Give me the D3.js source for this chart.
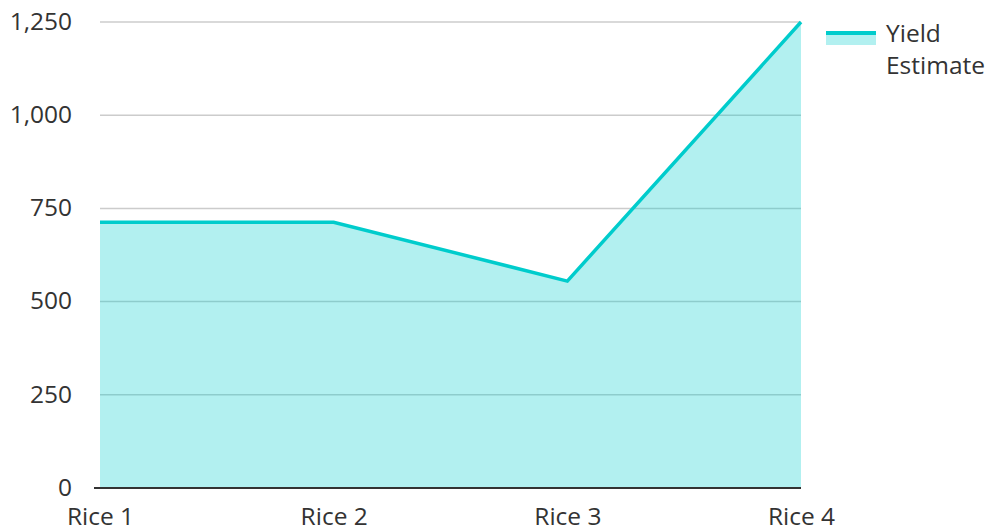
<!DOCTYPE html>
<html>
<head>
<meta charset="utf-8">
<script src="https://cdn.jsdelivr.net/npm/d3@7"></script>
<style>
  body { margin: 0; background: #fff; }
  text { font-family: "Open Sans", sans-serif; fill: #333; }
</style>
</head>
<body>
<div id="chart"></div>
<script>
// data
var categories = ["Rice 1", "Rice 2", "Rice 3", "Rice 4"];
var yieldValues = [713, 713, 555, 1250];
var yTicks = [0, 250, 500, 750, 1000, 1250];
var seriesName = ["Yield", "Estimate"];

var width = 990, height = 529;
var margin = { top: 22, right: 189, bottom: 41, left: 100 };
var fontSize = "24.5px";

var svg = d3.select("#chart").append("svg")
    .attr("width", width)
    .attr("height", height);

var x = d3.scalePoint()
    .domain(categories)
    .range([margin.left, width - margin.right]);

var y = d3.scaleLinear()
    .domain([0, 1250])
    .range([height - margin.bottom, margin.top]);

// gridlines
svg.append("g")
    .selectAll("line")
    .data(yTicks.filter(function(d) { return d > 0; }))
    .enter().append("line")
    .attr("x1", margin.left)
    .attr("x2", width - margin.right)
    .attr("y1", function(d) { return y(d); })
    .attr("y2", function(d) { return y(d); })
    .attr("stroke", "#ccc")
    .attr("stroke-width", 1.5);

var data = categories.map(function(c, i) { return { cat: c, v: yieldValues[i] }; });

var area = d3.area()
    .x(function(d) { return x(d.cat); })
    .y0(y(0))
    .y1(function(d) { return y(d.v); });

var line = d3.line()
    .x(function(d) { return x(d.cat); })
    .y(function(d) { return y(d.v); });

svg.append("path")
    .datum(data)
    .attr("d", area)
    .attr("fill", "#00cccc")
    .attr("fill-opacity", 0.3);

svg.append("path")
    .datum(data)
    .attr("d", line)
    .attr("fill", "none")
    .attr("stroke", "#00cccc")
    .attr("stroke-width", 3.5);

// baseline
svg.append("line")
    .attr("x1", margin.left - 6)
    .attr("x2", width - margin.right)
    .attr("y1", y(0))
    .attr("y2", y(0))
    .attr("stroke", "#333")
    .attr("stroke-width", 2);

// y axis labels
var yAxis = d3.axisLeft(y)
    .tickValues(yTicks)
    .tickFormat(d3.format(","))
    .tickSize(0)
    .tickPadding(28);

var gy = svg.append("g")
    .attr("transform", "translate(" + margin.left + ",0)")
    .call(yAxis);
gy.select(".domain").remove();
gy.selectAll("text")
    .style("font-size", fontSize)
    .attr("fill", "#333")
    .attr("dy", "0.3em");

// x axis labels
var xAxis = d3.axisBottom(x).tickSize(0).tickPadding(20);
var gx = svg.append("g")
    .attr("transform", "translate(0," + y(0) + ")")
    .call(xAxis);
gx.select(".domain").remove();
gx.selectAll("text")
    .style("font-size", fontSize)
    .attr("fill", "#333")
    .attr("dy", "0.71em");

// legend
var lg = svg.append("g").attr("transform", "translate(826,33)");
lg.append("rect")
    .attr("x", 0).attr("y", 0)
    .attr("width", 50).attr("height", 12)
    .attr("fill", "#00cccc")
    .attr("fill-opacity", 0.3);
lg.append("line")
    .attr("x1", 0).attr("x2", 50)
    .attr("y1", 0).attr("y2", 0)
    .attr("stroke", "#00cccc")
    .attr("stroke-width", 4);
lg.append("text")
    .attr("x", 60)
    .attr("y", 9)
    .style("font-size", fontSize)
    .selectAll("tspan")
    .data(seriesName)
    .enter().append("tspan")
    .attr("x", 60)
    .attr("dy", function(d, i) { return i === 0 ? 0 : 32; })
    .text(function(d) { return d; });
</script>
</body>
</html>
